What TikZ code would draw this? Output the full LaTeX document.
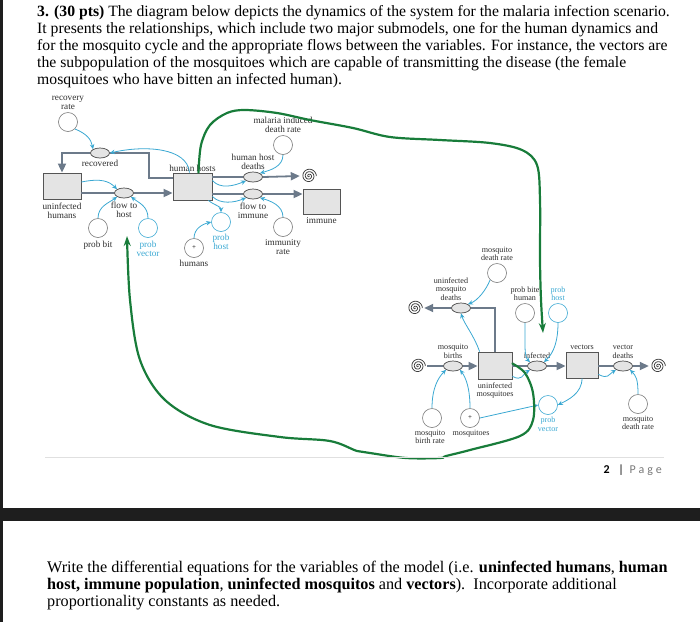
\documentclass[tikz,border=0pt]{standalone}
\usepackage{fontspec}
\setmainfont{Liberation Serif}
\newfontfamily\pagefont[LetterSpace=25]{Carlito}
\usetikzlibrary{positioning,shapes.geometric,arrows.meta}

% spiral cloud at a sink node
\newcommand{\spiralsink}[1]{%
  \draw[spiralpen,shift={(#1)}] plot[domain=0:1080,samples=100,variable=\t]
    ({0.0068*\t*cos(\t)},{0.0068*\t*sin(\t)});}

\begin{document}
\begin{tikzpicture}[x=1pt, y=-1pt,
    stock/.style={draw=boxedge, fill=boxfill, line width=0.8pt, minimum width=38pt, minimum height=26pt, inner sep=0pt},
    valve/.style={ellipse, draw=valveedge, fill=boxfill, line width=0.7pt, minimum width=19pt, minimum height=10pt, inner sep=0pt},
    aux/.style={circle, draw=auxedge, fill=white, line width=0.6pt, minimum size=19pt, inner sep=0pt, font=\fontsize{7}{7}\selectfont},
    sink/.style={circle, minimum size=18pt, inner sep=0pt},
    pipe/.style={draw=pipegray, line width=1.8pt},
    flow/.style={pipe, -{Triangle[length=9pt,width=8pt]}},
    link/.style={draw=linkcyan, line width=0.8pt, -{Stealth[length=5pt,width=4.5pt]}},
    lbl/.style={font=\fontsize{9.2}{9.2}\selectfont, align=center, inner sep=0pt, text=labelgray},
    clbl/.style={lbl, text=linkcyan},
    mlbl/.style={lbl, font=\fontsize{8.1}{8.6}\selectfont},
    mclbl/.style={mlbl, text=linkcyan},
    handpen/.style={draw=handgreen, line width=2.2pt, line cap=round, line join=round, -{Stealth[length=10pt,width=7pt]}},
    spiralpen/.style={draw=spiralgray, line width=0.75pt},
    bodytext/.style={anchor=base west, inner sep=0pt, font=\fontsize{15.7}{17}\selectfont},
    asktext/.style={bodytext, font=\fontsize{16.2}{17}\selectfont}]

    \definecolor{boxedge}{RGB}{85, 85, 85}
    \definecolor{boxfill}{RGB}{228, 228, 228}
    \definecolor{valveedge}{RGB}{70, 70, 70}
    \definecolor{auxedge}{RGB}{120, 120, 120}
    \definecolor{pipegray}{RGB}{108, 122, 138}
    \definecolor{linkcyan}{RGB}{58, 168, 210}
    \definecolor{labelgray}{RGB}{45, 45, 45}
    \definecolor{handgreen}{RGB}{24, 124, 58}
    \definecolor{spiralgray}{RGB}{60, 60, 60}
    \definecolor{pagedark}{RGB}{30, 30, 30}
    \definecolor{pagegray}{RGB}{120, 120, 120}

    \useasboundingbox (0,0) rectangle (700,622);

    % question
    \node[bodytext] (title1) at (37,16) {\textbf{3. (30 pts)} The diagram below depicts the dynamics of the system for the malaria infection scenario.};
    \node[bodytext] (title2) at (37,33) {It presents the relationships, which include two major submodels, one for the human dynamics and};
    \node[bodytext] (title3) at (37,50) {for the mosquito cycle and the appropriate flows between the variables. For instance, the vectors are};
    \node[bodytext] (title4) at (37,67) {the subpopulation of the mosquitoes which are capable of transmitting the disease (the female};
    \node[bodytext] (title5) at (37,84) {mosquitoes who have bitten an infected human).};

    % humans
    \node[stock] (unhum) at (62,186) {};
    \node[lbl, below=3pt of unhum] {uninfected\\humans};
    \node[stock, minimum width=39pt, minimum height=27pt] (hosts) at (192.5,186.5) {};
    \node[lbl, above=1pt of hosts] {human hosts};
    \node[stock, minimum width=37pt, minimum height=25pt] (immune) at (321.5,201.5) {};
    \node[lbl, below=3pt of immune] {immune};

    \node[valve] (recov) at (100,153) {};
    \node[lbl, below=2pt of recov] {recovered};
    \node[valve] (flowhost) at (124,193) {};
    \node[lbl, below=3pt of flowhost] {flow to\\host};
    \node[valve] (hdeaths) at (253,177) {};
    \node[lbl, above=2pt of hdeaths] {human host\\deaths};
    \node[valve] (flowimm) at (253,194) {};
    \node[lbl, below=3pt of flowimm] {flow to\\immune};
    \node[sink] (sinkh) at (309,176) {};

    \node[aux] (recrate) at (68,122) {};
    \node[lbl, above=2pt of recrate] {recovery\\rate};
    \node[aux] (probbit) at (98,228) {};
    \node[lbl, below=3pt of probbit] {prob bit};
    \node[aux, draw=linkcyan] (probvec) at (148,228) {};
    \node[clbl, below=3pt of probvec] {prob\\vector};
    \node[aux] (humans) at (194,248) {+};
    \node[lbl, below=2pt of humans] {humans};
    \node[aux, draw=linkcyan] (probhost) at (221,222) {};
    \node[clbl, below=2pt of probhost] {prob\\host};
    \node[aux] (mdrate) at (283,145) {};
    \node[lbl, above=2pt of mdrate] {malaria induced\\death rate};
    \node[aux] (imrate) at (283,227) {};
    \node[lbl, below=2pt of imrate] {immunity\\rate};

    \coordinate (recbend) at (149,178);
    \draw[pipe] (unhum.east |- flowhost) -- (flowhost.west);
    \draw[flow] (flowhost.east) -- (hosts.west |- flowhost);
    \draw[pipe] (hosts.west |- recbend) -- (recbend) -- (recbend |- recov) -- (recov.east);
    \draw[flow] (recov.west) -- (unhum.north |- recov) -- (unhum.north);
    \draw[pipe] (hosts.east |- hdeaths) -- (hdeaths.west);
    \draw[flow] (hdeaths.east) -- (sinkh.west);
    \draw[pipe] (hosts.east |- flowimm) -- (flowimm.west);
    \draw[flow] (flowimm.east) -- (immune.west |- flowimm);
    \spiralsink{sinkh}

    \draw[link] (recrate.south east) .. controls +(12,5) and +(-2,-10) .. (recov.north west);
    \draw[link] ([xshift=-3pt]hosts.north) .. controls +(-2,-25) and +(35,-8) .. (recov.east);
    \draw[link] ([yshift=4pt]unhum.east) .. controls +(20,-4) and +(-8,-8) .. (flowhost.north west);
    \draw[link] (probbit.north) .. controls +(0,-12) and +(-8,6) .. (flowhost.south west);
    \draw[link] (probvec.north) .. controls +(0,-12) and +(8,6) .. (flowhost.south east);
    \draw[link] ([yshift=6pt]hosts.east) .. controls +(8,9) and +(-12,5) .. (hdeaths.south west);
    \draw[link] ([yshift=-10pt]hosts.east) .. controls +(8,8) and +(-12,5) .. (flowimm.south west);
    \draw[link] ([xshift=-4pt]hosts.south east) .. controls +(6,5) and +(0,-6) .. (probhost.north);
    \draw[link] (humans.north) .. controls +(0,-10) and +(-8,2) .. (probhost.west);
    \draw[link] (mdrate.south) .. controls +(0,12) and +(10,-3) .. (hdeaths.north east);
    \draw[link] (imrate.north) .. controls +(0,-12) and +(10,3) .. (flowimm.south east);

    % mosquitoes
    \node[stock, minimum width=34pt, minimum height=27pt] (unmos) at (495,365.5) {};
    \node[mlbl, below=3pt of unmos] {uninfected\\mosquitoes};
    \node[stock, minimum width=32pt, minimum height=26pt] (vectors) at (582,365) {};
    \node[mlbl, above=2pt of vectors] {vectors};

    \node[valve] (umdeaths) at (461,308) {};
    \node[mlbl, above=2pt of umdeaths, xshift=-10pt] {uninfected\\mosquito\\deaths};
    \node[valve] (mbirths) at (453,366) {};
    \node[mlbl, above=2pt of mbirths] {mosquito\\births};
    \node[valve] (infected) at (537,366) {};
    \node[mlbl, above=2pt of infected] {infected};
    \node[valve] (vdeaths) at (623,366) {};
    \node[mlbl, above=2pt of vdeaths] {vector\\deaths};
    \node[sink] (sinkm1) at (415,308) {};
    \node[sink] (srcm) at (418,366) {};
    \node[sink] (sinkm2) at (658,366) {};

    \node[aux] (mdrate1) at (497,273) {};
    \node[mlbl, above=2pt of mdrate1] {mosquito\\death rate};
    \node[aux] (pbite) at (525,313) {};
    \node[mlbl, above=2pt of pbite] {prob bite\\human};
    \node[aux, draw=linkcyan] (phost2) at (558,313) {};
    \node[mclbl, above=2pt of phost2] {prob\\host};
    \node[aux] (mbrate) at (432,418) {};
    \node[mlbl, below=2pt of mbrate, xshift=-2pt] {mosquito\\birth rate};
    \node[aux] (mosq) at (470,418) {+};
    \node[mlbl, below=2pt of mosq, xshift=1pt] {mosquitoes};
    \node[aux, draw=linkcyan] (pvec2) at (548,405) {};
    \node[mclbl, below=2pt of pvec2] {prob\\vector};
    \node[aux] (mdrate2) at (638,404) {};
    \node[mlbl, below=2pt of mdrate2] {mosquito\\death rate};

    \draw[pipe] (unmos.north) -- (unmos.north |- umdeaths) -- (umdeaths.east);
    \draw[flow] (umdeaths.west) -- (sinkm1.east);
    \draw[pipe] (srcm.east) -- (mbirths.west);
    \draw[flow] (mbirths.east) -- (unmos.west |- mbirths);
    \draw[pipe] (unmos.east |- infected) -- (infected.west);
    \draw[flow] (infected.east) -- (vectors.west |- infected);
    \draw[pipe] (vectors.east |- vdeaths) -- (vdeaths.west);
    \draw[flow] (vdeaths.east) -- (sinkm2.west);
    \spiralsink{sinkm1}
    \spiralsink{srcm}
    \spiralsink{sinkm2}

    \draw[link] (mdrate1.south west) .. controls +(-4,10) and +(10,-4) .. (umdeaths.north east);
    \draw[link] ([xshift=2pt]unmos.north west) .. controls +(-5,-15) and +(3,10) .. (umdeaths.south);
    \draw[link] (mbrate.north) .. controls +(0,-20) and +(-8,8) .. (mbirths.south west);
    \draw[link] (mosq.north) .. controls +(0,-20) and +(6,8) .. (mbirths.south east);
    \draw[link] (mosq.east) -- (pvec2.west);
    \draw[link] (pbite.south) .. controls +(0,20) and +(-6,-6) .. (infected.north west);
    \draw[link] (phost2.south) .. controls +(0,25) and +(6,-6) .. (infected.north east);
    \draw[link] ([yshift=3pt]unmos.south east) .. controls +(10,5) and +(-8,5) .. (infected.south west);
    \draw[link] (vectors.south) .. controls +(0,15) and +(10,-5) .. (pvec2.east);
    \draw[link] ([yshift=4pt]vectors.south east) .. controls +(10,5) and +(-8,5) .. (vdeaths.south west);
    \draw[link] (mdrate2.north) .. controls +(0,-15) and +(6,6) .. (vdeaths.south east);

    % handwritten links
    \coordinate (greentip1) at (543,333);
    \coordinate (greentip2) at (127,236);
    \draw[handpen] plot[smooth, tension=0.55] coordinates {([xshift=6pt]hosts.north) (201,145) (210,125) (227,113) (245,110) (277,113) (310,120) (353,128) (390,137) (440,140) (490,143) (522,150) (537,165) (540,200) (540,260) (541,300) (greentip1)};
    \draw[handpen] plot[smooth, tension=0.55] coordinates {([yshift=2pt]unmos.east) (525,373) (533,393) (533,420) (520,436) (470,450) (446,456) (440,458) (406,458) (370,453) (357,451) (330,441) (280,437) (210,425) (165,400) (140,360) (130,300) (greentip2)};

    % page
    \draw[draw=black!12, line width=0.6pt] (45,457) -- (664,457);
    \node[anchor=base east, inner sep=0pt, font=\pagefont\fontsize{12}{12}\selectfont] (pageno) at (662,473) {\textbf{2} | \textcolor{pagegray}{Page}};
    \fill[pagedark] (0,508) rectangle (700,521);
    \fill[pagedark] (0,0) rectangle (3,622);

    \node[asktext] (ask1) at (47,572) {Write the differential equations for the variables of the model (i.e. \textbf{uninfected humans}, \textbf{human}};
    \node[asktext] (ask2) at (47,589) {\textbf{host, immune population}, \textbf{uninfected mosquitos} and \textbf{vectors}).\ \ Incorporate additional};
    \node[asktext] (ask3) at (47,606) {proportionality constants as needed.};

\end{tikzpicture}
\end{document}
